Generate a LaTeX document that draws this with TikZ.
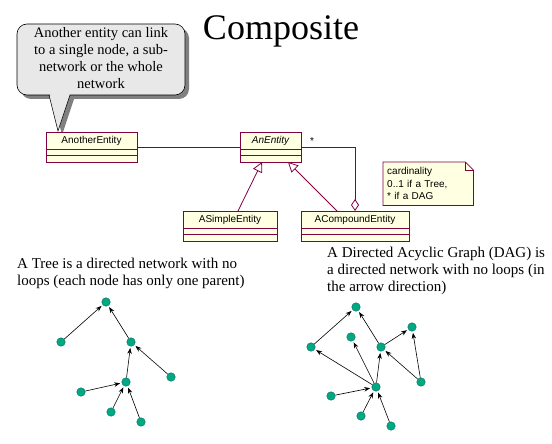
\documentclass[tikz,border=0pt]{standalone}
\usepackage{fontspec}
\setmainfont{Liberation Serif}
\setsansfont{Liberation Sans}
\usetikzlibrary{positioning}
\usetikzlibrary{arrows.meta}
\usetikzlibrary{backgrounds}
\definecolor{umlborder}{RGB}{128,0,64}
\definecolor{umlfill}{RGB}{255,255,225}
\definecolor{dotfill}{RGB}{0,168,132}
\definecolor{dotline}{RGB}{0,110,88}
\definecolor{calloutfill}{RGB}{232,232,232}
\definecolor{calloutshadow}{RGB}{128,128,128}
\tikzset{
    class name/.style={
        draw=umlborder,
        fill=umlfill,
        line width=0.8pt,
        font=\sffamily\fontsize{10}{12}\selectfont,
        minimum height=17pt,
        inner sep=0pt,
        outer sep=0pt,
        anchor=north west
    },
    class part/.style={
        class name,
        minimum height=6.5pt
    },
    uml line/.style={
        draw=umlborder,
        line width=0.8pt
    },
    dot/.style={
        circle,
        fill=dotfill,
        draw=dotline,
        inner sep=0pt,
        minimum size=8.5pt
    },
    desc text/.style={
        font=\rmfamily\fontsize{15}{17}\selectfont,
        align=left,
        inner sep=0pt,
        anchor=north west
    },
    every edge/.append style={
        draw,
        -{Stealth[length=6pt, width=4.5pt]},
        shorten >=1.5pt,
        line width=0.6pt
    }
}

\begin{document}
\begin{tikzpicture}[x=1pt, y=-1pt]
    \useasboundingbox (0,0) rectangle (552,444);

    % callout
    \fill[calloutshadow, xshift=4pt, yshift=-4pt] (100,95) [rounded corners=10pt] -- (185,95) -- (185,24) -- (17,24) -- (17,95) -- (40,95) [sharp corners] -- (49,95) -- (58,131) -- (70,95) -- cycle;
    \filldraw[fill=calloutfill, draw=black, line width=0.6pt] (100,95) [rounded corners=10pt] -- (185,95) -- (185,24) -- (17,24) -- (17,95) -- (40,95) [sharp corners] -- (49,95) -- (58,131) -- (70,95) -- cycle;
    \node[align=center, inner sep=0pt, font=\rmfamily\fontsize{14.5}{17}\selectfont] (calltext) at (101,58) {Another entity can link\\to a single node, a sub-\\network or the whole\\network};

    \node[font=\rmfamily\fontsize{36}{40}\selectfont] (title) at (281,31) {Composite};

    % classes
    \node[class name, minimum width=91pt] (another1) at (46,132) {AnotherEntity};
    \node[class part, minimum width=91pt] (another2) at (another1.south west) {};
    \node[class part, minimum width=91pt] (another3) at (another2.south west) {};

    \node[class name, minimum width=61pt, font=\sffamily\itshape\fontsize{10}{12}\selectfont] (an1) at (240,132) {AnEntity};
    \node[class part, minimum width=61pt] (an2) at (an1.south west) {};
    \node[class part, minimum width=61pt] (an3) at (an2.south west) {};

    \node[class name, minimum width=94pt] (simple1) at (183,211) {ASimpleEntity};
    \node[class part, minimum width=94pt] (simple2) at (simple1.south west) {};
    \node[class part, minimum width=94pt] (simple3) at (simple2.south west) {};

    \node[class name, minimum width=108pt] (comp1) at (301,211) {ACompoundEntity};
    \node[class part, minimum width=108pt] (comp2) at (comp1.south west) {};
    \node[class part, minimum width=108pt] (comp3) at (comp2.south west) {};

    \coordinate (aggr) at (355,211);
    \draw[uml line] ([yshift=2pt]another1.south east) -- ([yshift=2pt]an1.south west);
    \draw[uml line, {Diamond[open, fill=white, width=8pt, length=12pt]}-] (aggr) |- ([yshift=2pt]an1.south east);
    \node[font=\sffamily\fontsize{10}{12}\selectfont, inner sep=0pt] (star) at (312,141) {*};
    \draw[uml line, -{Triangle[open, fill=white, width=10pt, length=10pt]}] ([xshift=8pt]simple1.north) -- ([xshift=-8.5pt]an3.south);
    \draw[uml line, -{Triangle[open, fill=white, width=10pt, length=10pt]}] ([xshift=-18pt]comp1.north) -- ([xshift=17.5pt]an3.south);

    % note
    \node[align=left, text width=82pt, inner xsep=4pt, inner ysep=0pt, minimum height=43pt, anchor=north west, font=\sffamily\fontsize{10}{12.5}\selectfont] (note) at (383,162) {cardinality\\0..1 if a Tree,\\{*} if a DAG};
    \begin{scope}[on background layer]
        \filldraw[uml line, fill=umlfill] (note.north west) -- ([xshift=-8pt]note.north east) -- ([yshift=-8pt]note.north east) -- (note.south east) -- (note.south west) -- cycle;
    \end{scope}
    \draw[uml line, line width=0.5pt] ([xshift=-8pt]note.north east) |- ([yshift=-8pt]note.north east);

    % tree
    \node[desc text] (treetext) at (17,258) {A Tree is a directed network with no\\loops (each node has only one parent)};
    \node[dot] (t1) at (106,302) {};
    \node[dot] (t2) at (61,342) {};
    \node[dot] (t3) at (131,342) {};
    \node[dot] (t4) at (171,377) {};
    \node[dot] (t5) at (126,382) {};
    \node[dot] (t6) at (81,392) {};
    \node[dot] (t7) at (111,412) {};
    \node[dot] (t8) at (141,422) {};

    \draw (t2) edge (t1);
    \draw (t3) edge (t1);
    \draw (t4) edge (t3);
    \draw (t5) edge (t3);
    \draw (t6) edge (t5);
    \draw (t7) edge (t5);
    \draw (t8) edge (t5);

    % dag
    \node[desc text] (dagtext) at (327,247) {A Directed Acyclic Graph (DAG) is\\a directed network with no loops (in\\the arrow direction)};
    \node[dot] (d1) at (356,307) {};
    \node[dot] (d2) at (311,347) {};
    \node[dot] (d3) at (351,337) {};
    \node[dot] (d4) at (381,347) {};
    \node[dot] (d5) at (412,327) {};
    \node[dot] (d6) at (421,382) {};
    \node[dot] (d7) at (376,387) {};
    \node[dot] (d8) at (331,396) {};
    \node[dot] (d9) at (361,416) {};
    \node[dot] (d10) at (391,426) {};

    \draw (d2) edge (d1);
    \draw (d4) edge (d1)
        edge (d5);
    \draw (d6) edge (d5)
        edge (d4);
    \draw (d7) edge (d2)
        edge (d3)
        edge (d4);
    \draw (d8) edge (d7);
    \draw (d9) edge (d7);
    \draw (d10) edge (d7);
\end{tikzpicture}
\end{document}
